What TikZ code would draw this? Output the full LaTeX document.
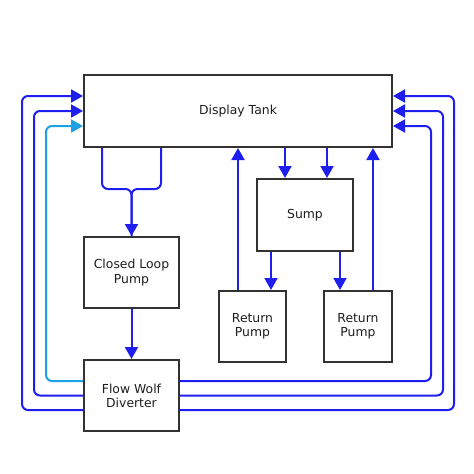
\documentclass[tikz,border=0pt]{standalone}
\usepackage{fontspec}
\setmainfont{DejaVu Sans}
\usetikzlibrary{arrows.meta,calc}
\definecolor{flowblue}{RGB}{30,30,238}
\definecolor{flowcyan}{RGB}{30,160,230}
\definecolor{boxgray}{RGB}{50,50,50}
\definecolor{txtgray}{RGB}{30,30,30}
\tikzset{
  box/.style={draw=boxgray, line width=2pt, fill=white, rectangle, align=center,
    text=txtgray, font=\fontsize{12.4}{14.2}\selectfont, inner sep=0pt},
  flow/.style={draw=flowblue, line width=2pt, rounded corners=6pt,
    -{Triangle[length=12pt,width=13pt]}},
  flowline/.style={draw=flowblue, line width=2pt, rounded corners=6pt},
  cyanflow/.style={flow, draw=flowcyan},
}
\begin{document}
\begin{tikzpicture}[x=1pt,y=-1pt]
\useasboundingbox (0,0) rectangle (474,474);
\node[box, minimum width=308pt, minimum height=72pt] (disp) at (238,111) {Display Tank};
\node[box, minimum width=95pt, minimum height=71pt] (clp) at (131.5,272.5) {Closed Loop\\Pump};
\node[box, minimum width=95pt, minimum height=71pt] (div) at (131.5,395.5) {Flow Wolf\\Diverter};
\node[box, minimum width=96pt, minimum height=72pt] (sump) at (305,215) {Sump};
\node[box, minimum width=67pt, minimum height=71pt] (rp1) at (252.5,326.5) {Return\\Pump};
\node[box, minimum width=68pt, minimum height=71pt] (rp2) at (358,326.5) {Return\\Pump};

% display tank -> closed loop pump (merging pair)
\coordinate (dL) at ([xshift=19pt]disp.south west);
\coordinate (dR) at ([xshift=78pt]disp.south west);
\coordinate (mrg) at ($(clp.north)+(0,-47)$);
\draw[flowline] (dL) |- (mrg) -- (clp.north);
\draw[flow] (dR) |- (mrg) -- (clp.north);

% closed loop pump -> diverter
\draw[flow] (clp.south) -- (div.north);

% display tank -> sump
\coordinate (s1) at ([xshift=-20pt]sump.north);
\coordinate (s2) at ([xshift=22pt]sump.north);
\draw[flow] (disp.south -| s1) -- (s1);
\draw[flow] (disp.south -| s2) -- (s2);

% sump -> return pumps
\coordinate (r1in) at ([xshift=18.5pt]rp1.north);
\coordinate (r2in) at ([xshift=-18pt]rp2.north);
\draw[flow] (sump.south -| r1in) -- (r1in);
\draw[flow] (sump.south -| r2in) -- (r2in);

% return pumps -> display tank
\coordinate (r1out) at ([xshift=-14.5pt]rp1.north);
\coordinate (r2out) at ([xshift=15pt]rp2.north);
\draw[flow] (r1out) -- (r1out |- disp.south);
\draw[flow] (r2out) -- (r2out |- disp.south);

% diverter ports
\coordinate (dvWa) at ([yshift=14.5pt]div.west);
\coordinate (dvWb) at (div.west);
\coordinate (dvWc) at ([yshift=-14.5pt]div.west);
\coordinate (dvEa) at ([yshift=14.5pt]div.east);
\coordinate (dvEb) at (div.east);
\coordinate (dvEc) at ([yshift=-14.5pt]div.east);
% display tank ports
\coordinate (dtWa) at ([yshift=15pt]disp.west);
\coordinate (dtWb) at (disp.west);
\coordinate (dtWc) at ([yshift=-15pt]disp.west);
\coordinate (dtEa) at ([yshift=15pt]disp.east);
\coordinate (dtEb) at (disp.east);
\coordinate (dtEc) at ([yshift=-15pt]disp.east);

% left return loops
\draw[flow] (dvWc) -| ($(dtWa)+(-61,0)$) -- (dtWa);
\draw[flow] (dvWb) -| ($(dtWb)+(-49,0)$) -- (dtWb);
\draw[cyanflow] (dvWa) -| ($(dtWc)+(-37,0)$) -- (dtWc);

% right return loops
\draw[flow] (dvEa) -| ($(dtEc)+(38,0)$) -- (dtEc);
\draw[flow] (dvEb) -| ($(dtEb)+(50,0)$) -- (dtEb);
\draw[flow] (dvEc) -| ($(dtEa)+(61,0)$) -- (dtEa);
\end{tikzpicture}
\end{document}
